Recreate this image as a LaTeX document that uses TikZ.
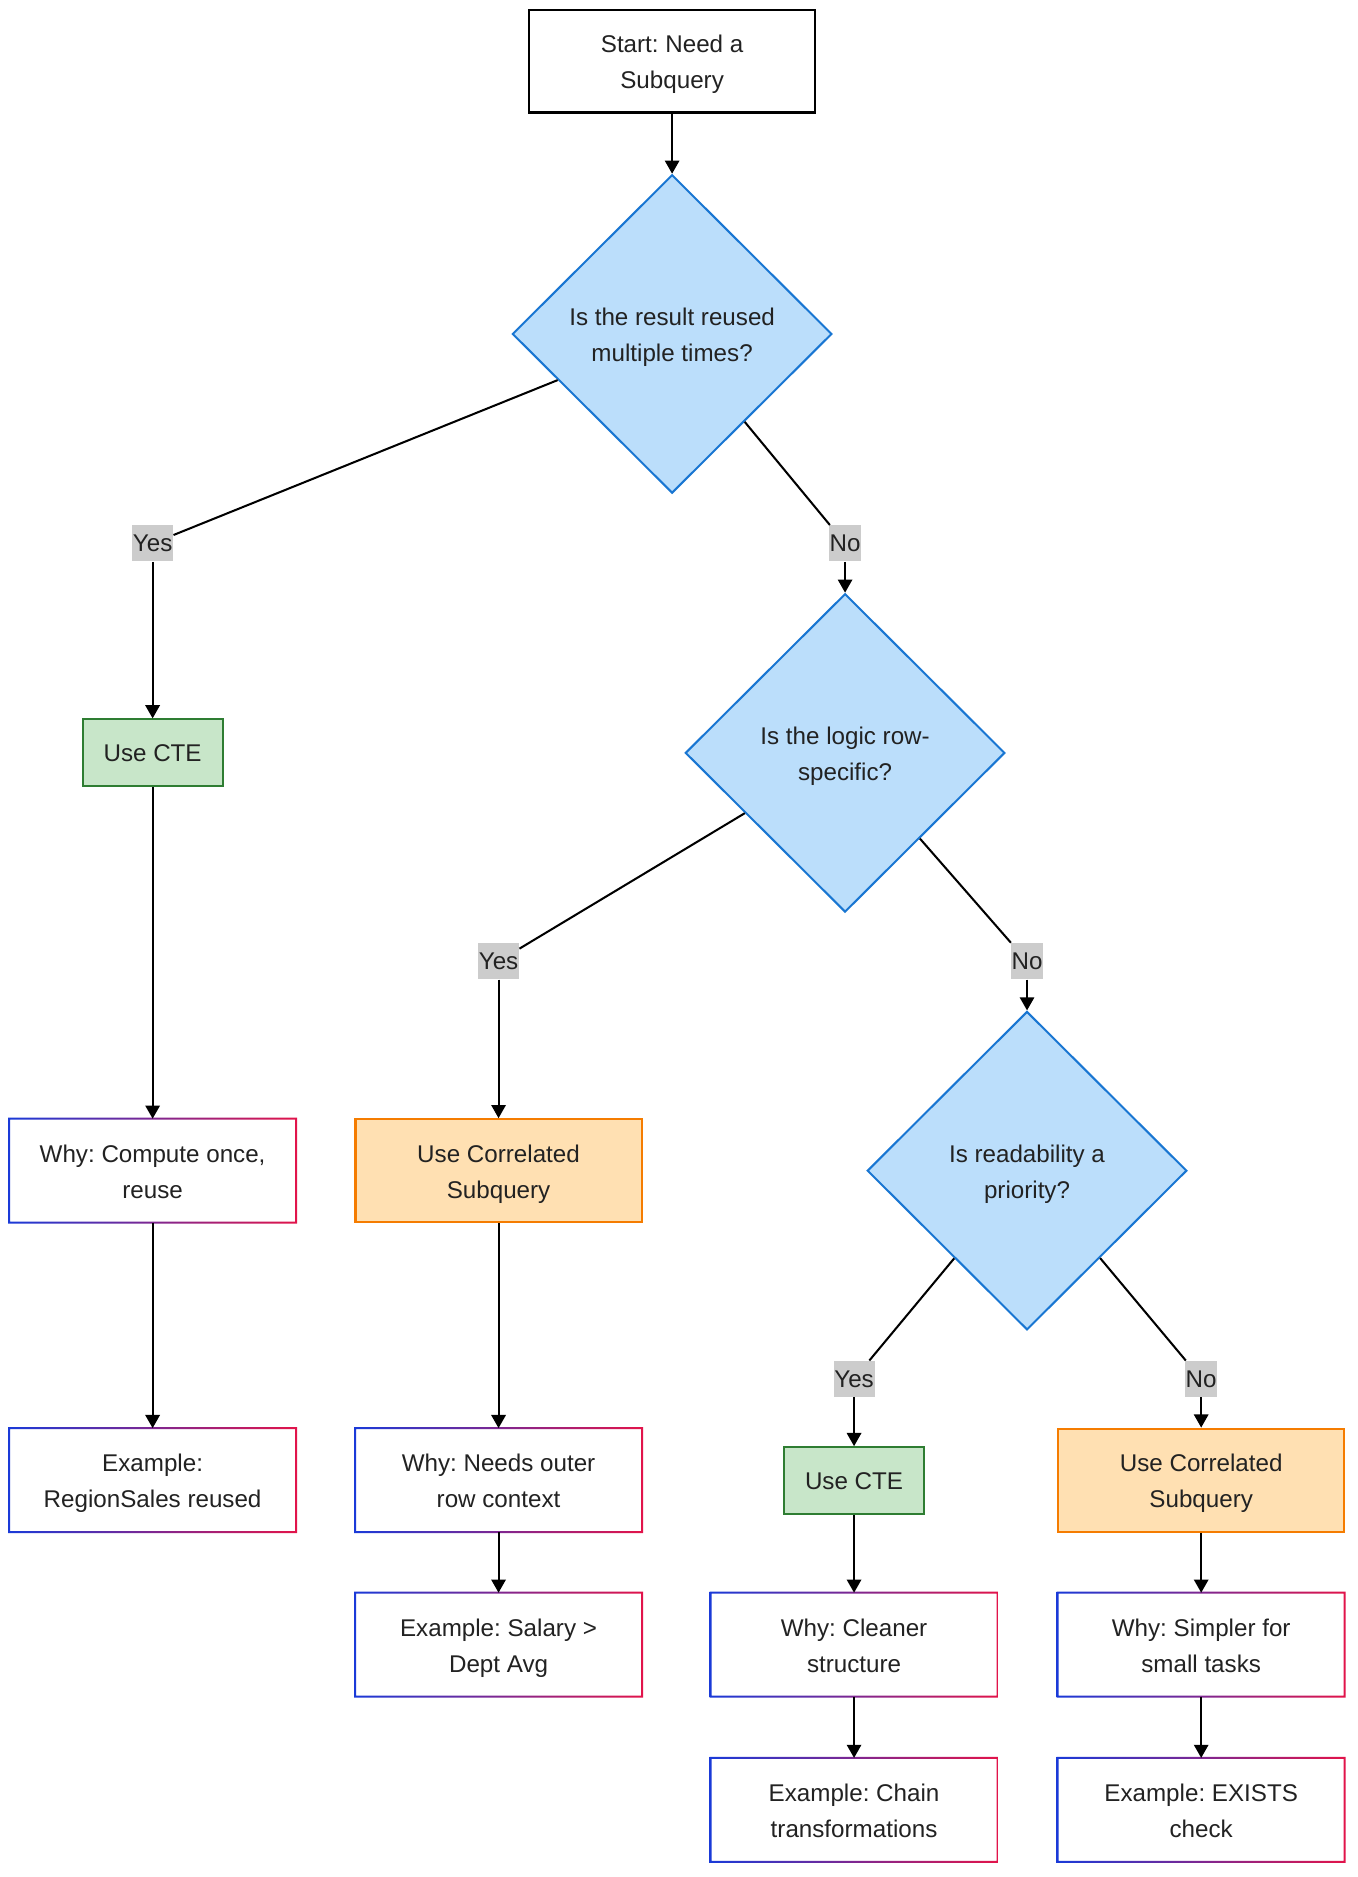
\documentclass[tikz,border=0pt]{standalone}
\usepackage{fontspec}
\setmainfont{Liberation Sans}
\usetikzlibrary{shapes.geometric,arrows.meta}
\definecolor{txt}{HTML}{222222}
\definecolor{dfill}{HTML}{BBDEFB}
\definecolor{dline}{HTML}{1976D2}
\definecolor{gfill}{HTML}{C8E6C9}
\definecolor{gline}{HTML}{2E7D32}
\definecolor{ofill}{HTML}{FFE0B2}
\definecolor{oline}{HTML}{F57C00}
\definecolor{lblfill}{HTML}{CCCCCC}
\definecolor{gradL}{HTML}{1A3AD8}
\definecolor{gradR}{HTML}{E2144A}
\frenchspacing
\begin{document}
\begin{tikzpicture}[x=0.5pt,y=-0.5pt,
 base/.style={font=\fontsize{10.1}{15}\selectfont, text=txt, align=center, inner sep=0pt},
 twoline/.style={text height=24.2pt, text depth=1pt},
 startbox/.style={base, twoline, rectangle, draw=black, line width=0.85pt, fill=white, minimum width=119.5pt, minimum height=43pt},
 decision/.style={base, twoline, diamond, draw=dline, fill=dfill, line width=0.85pt, minimum width=133.5pt, minimum height=133pt},
 ctebox/.style={base, rectangle, draw=gline, fill=gfill, line width=0.85pt, minimum width=58.5pt, minimum height=28pt},
 corbox/.style={base, twoline, rectangle, draw=oline, fill=ofill, line width=0.85pt, minimum width=119.5pt, minimum height=43pt},
 gradbox/.style={base, twoline, rectangle, fill=white, minimum width=119.5pt, minimum height=43pt},
 edgelbl/.style={base, rectangle, fill=lblfill, minimum height=15pt, inner xsep=0.3pt},
 link/.style={draw=black, line width=0.85pt},
 arrow/.style={link, -{Triangle[width=6pt,length=5.5pt]}}
]
\useasboundingbox (0,0) rectangle (1134.5,1568.1);

% nodes
\node[startbox] (start) at (561.5,51) {Start: Need a\\Subquery};
\node[decision] (d1) at (561.5,279) {Is the result reused\\multiple times?};
\node[edgelbl] (yes1) at (127.5,454) {Yes};
\node[edgelbl] (no1) at (706,454) {No};
\node[ctebox] (cte1) at (127.5,629) {Use CTE};
\node[decision] (d2) at (706,629) {Is the logic row-\\specific?};
\node[edgelbl] (yes2) at (416.5,803) {Yes};
\node[edgelbl] (no2) at (858,803) {No};
\node[gradbox] (why1) at (127.5,978) {Why: Compute once,\\reuse};
\node[corbox] (cor1) at (416.5,978) {Use Correlated\\Subquery};
\node[decision] (d3) at (858,978) {Is readability a\\priority?};
\node[gradbox] (ex1) at (127.5,1236.5) {Example:\\RegionSales reused};
\node[gradbox] (why2) at (416.5,1236.5) {Why: Needs outer\\row context};
\node[edgelbl] (yes3) at (713.5,1152) {Yes};
\node[edgelbl] (no3) at (1003.5,1152) {No};
\node[ctebox] (cte2) at (713.5,1237) {Use CTE};
\node[corbox] (cor2) at (1003.5,1236.5) {Use Correlated\\Subquery};
\node[gradbox] (ex2) at (416.5,1374) {Example: Salary >\\Dept Avg};
\node[gradbox] (why3) at (713.5,1374) {Why: Cleaner\\structure};
\node[gradbox] (why4) at (1003.5,1374) {Why: Simpler for\\small tasks};
\node[gradbox] (ex3) at (713.5,1512) {Example: Chain\\transformations};
\node[gradbox] (ex4) at (1003.5,1512) {Example: EXISTS\\check};

% gradient borders
\foreach \n in {why1,ex1,why2,ex2,why3,ex3,why4,ex4}{
  \shade[left color=gradL, right color=gradR, even odd rule]
    ([shift={(-0.42pt,0.42pt)}]\n.north west) rectangle ([shift={(0.42pt,-0.42pt)}]\n.south east)
    ([shift={(0.42pt,-0.42pt)}]\n.north west) rectangle ([shift={(-0.42pt,0.42pt)}]\n.south east);
}

% connectors
\draw[arrow] (start) -- (d1);
\draw[link] (d1) -- (yes1);
\draw[arrow] (yes1) -- (cte1);
\draw[link] (d1) -- (no1);
\draw[arrow] (no1) -- (d2);
\draw[link] (d2) -- (yes2);
\draw[arrow] (yes2) -- (cor1);
\draw[link] (d2) -- (no2);
\draw[arrow] (no2) -- (d3);
\draw[link] (d3) -- (yes3);
\draw[arrow] (yes3) -- (cte2);
\draw[link] (d3) -- (no3);
\draw[arrow] (no3) -- (cor2);
\draw[arrow] (cte1) -- (why1);
\draw[arrow] (why1) -- (ex1);
\draw[arrow] (cor1) -- (why2);
\draw[arrow] (why2) -- (ex2);
\draw[arrow] (cte2) -- (why3);
\draw[arrow] (why3) -- (ex3);
\draw[arrow] (cor2) -- (why4);
\draw[arrow] (why4) -- (ex4);
\end{tikzpicture}
\end{document}
